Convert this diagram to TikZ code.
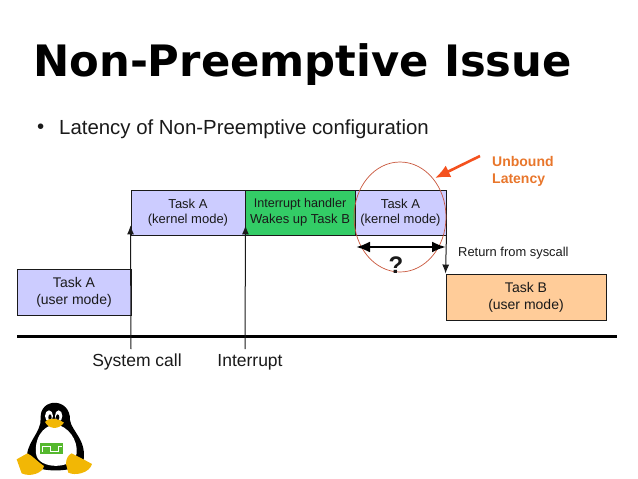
\documentclass[tikz,border=0pt]{standalone}
\usepackage{xcolor}
\usepackage{fontspec}
\setmainfont{Liberation Sans}
\newfontfamily\titlefont{DejaVu Sans}
\usetikzlibrary{calc,arrows.meta}
\definecolor{kernel}{HTML}{CCCCFF}
\definecolor{handler}{HTML}{33CC66}
\definecolor{userb}{HTML}{FFCC99}
\definecolor{latency}{HTML}{E8762B}
\definecolor{ring}{HTML}{C8553A}
\definecolor{pointer}{HTML}{F4511E}
\definecolor{beak}{HTML}{F2B705}
\definecolor{chip}{HTML}{55B82E}
\definecolor{ink}{HTML}{1A1A1A}
\tikzset{
  task/.style={draw=ink, line width=0.9pt, align=center, font=\fontsize{13}{15.5}\selectfont, text=ink, inner sep=0pt},
  usertask/.style={task, font=\fontsize{14}{17}\selectfont},
  conn/.style={draw=ink, line width=1pt, -{Latex[length=9pt,width=7pt]}},
  lab/.style={text=ink, inner sep=0pt},
  every node/.style={text=ink}
}

\begin{document}
\begin{tikzpicture}[x=1pt,y=-1pt]
  \useasboundingbox (0,0) rectangle (638,479);

  \node[lab,anchor=west,font=\titlefont\fontsize{43.3}{50}\selectfont\bfseries,text=black] (title) at (33,65) {Non-Preemptive Issue};
  \node[lab,anchor=west,font=\fontsize{20.4}{24}\selectfont] (bullet) at (37,129) {•};
  \node[lab,anchor=west,font=\fontsize{20.4}{24}\selectfont] (latencyline) at (59,129) {Latency of Non-Preemptive configuration};

  % boxes
  \node[usertask,fill=kernel,minimum width=114pt,minimum height=46pt] (userA) at (74,292) {Task A\\(user mode)};
  \node[task,fill=kernel,minimum width=114pt,minimum height=45pt] (kernA) at (188,212.5) {Task A\\(kernel mode)};
  \node[task,fill=handler,minimum width=110pt,minimum height=45pt] (handler) at (300,212.5) {\fontsize{12.6}{15.5}\selectfont Interrupt handler\\Wakes up Task B};
  \node[task,fill=kernel,minimum width=91pt,minimum height=45pt] (kernB) at (400.5,212.5) {Task A\\(kernel mode)};
  \node[usertask,fill=userb,minimum width=160pt,minimum height=46pt] (userB) at (526,297) {Task B\\(user mode)};

  % time line
  \coordinate (lineL) at (17,336);
  \coordinate (lineR) at (617,336);
  \draw[black,line width=3pt] (lineL) -- (lineR);

  \coordinate (syscall) at (131,349);
  \coordinate (irq) at (245,349);
  \draw[conn,shorten >=-10pt] (syscall) -- (kernA.south west);
  \draw[conn,shorten >=-10pt] (irq) -- (kernA.south east);
  \draw[conn] (kernB.south east) -- (userB.north west);

  \node[lab,font=\fontsize{17.5}{20}\selectfont] (syscalltxt) at (137,362) {System call};
  \node[lab,font=\fontsize{17.5}{20}\selectfont] (irqtxt) at (250,362) {Interrupt};
  \node[lab,anchor=west,font=\fontsize{12.9}{14}\selectfont] (ret) at (458,253) {Return from syscall};

  % unbound latency
  \draw[ring,line width=0.7pt] (400,217) ellipse (46 and 55);
  \coordinate (spanL) at (356,247);
  \coordinate (spanR) at (446,247);
  \draw[black,line width=2.5pt,{Latex[length=14pt,width=11pt]}-{Latex[length=14pt,width=11pt]}] (spanL) -- (spanR);
  \node[lab,font=\fontsize{24}{28}\selectfont\bfseries] (quest) at (396,265) {?};
  \node[lab,anchor=north west,align=left,font=\fontsize{14}{17}\selectfont\bfseries,text=latency] (unbound) at (492,156) {Unbound\\Latency};
  \coordinate (ptrTail) at (480,156);
  \coordinate (ptrTip) at (435,178);
  \draw[pointer,line width=2.6pt,-{Latex[length=15pt,width=13pt]}] (ptrTail) -- (ptrTip);

  % penguin
  \begin{scope}[shift={(0,390)},x=0.3333pt,y=-0.3333pt]
    \fill[black] (122,85) .. controls (118,22) and (212,22) .. (210,90)
      .. controls (215,125) and (262,150) .. (250,215)
      .. controls (235,250) and (100,250) .. (82,215)
      .. controls (72,160) and (125,130) .. (122,85) -- cycle;
    \fill[white] (165,103) .. controls (125,108) and (103,150) .. (108,190)
      .. controls (112,240) and (222,240) .. (230,190)
      .. controls (234,150) and (205,108) .. (165,103) -- cycle;
    \fill[white] (147,78) ellipse (12 and 17);
    \fill[white] (176,78) ellipse (11 and 17);
    \fill[black] (150,82) ellipse (5 and 9);
    \fill[black] (173,82) ellipse (5 and 9);
    \fill[beak] (135,96) .. controls (150,80) and (175,85) .. (192,98)
      .. controls (175,122) and (145,116) .. (135,96) -- cycle;
    \fill[beak] (50,208) -- (82,190) .. controls (95,195) and (112,215) .. (132,228)
      .. controls (128,250) and (90,262) .. (65,250) -- cycle;
    \fill[beak] (198,222) .. controls (198,205) and (205,195) .. (215,190)
      .. controls (235,200) and (258,212) .. (276,222)
      .. controls (268,250) and (225,258) .. (205,248) -- cycle;
    \filldraw[fill=chip,draw=white,line width=1pt] (118,158) rectangle (192,195);
    \draw[white,line width=0.7pt] (128,185) -- (128,168) -- (150,168) -- (150,185) -- (175,185) -- (175,170) -- (185,170);
  \end{scope}
\end{tikzpicture}
\end{document}
